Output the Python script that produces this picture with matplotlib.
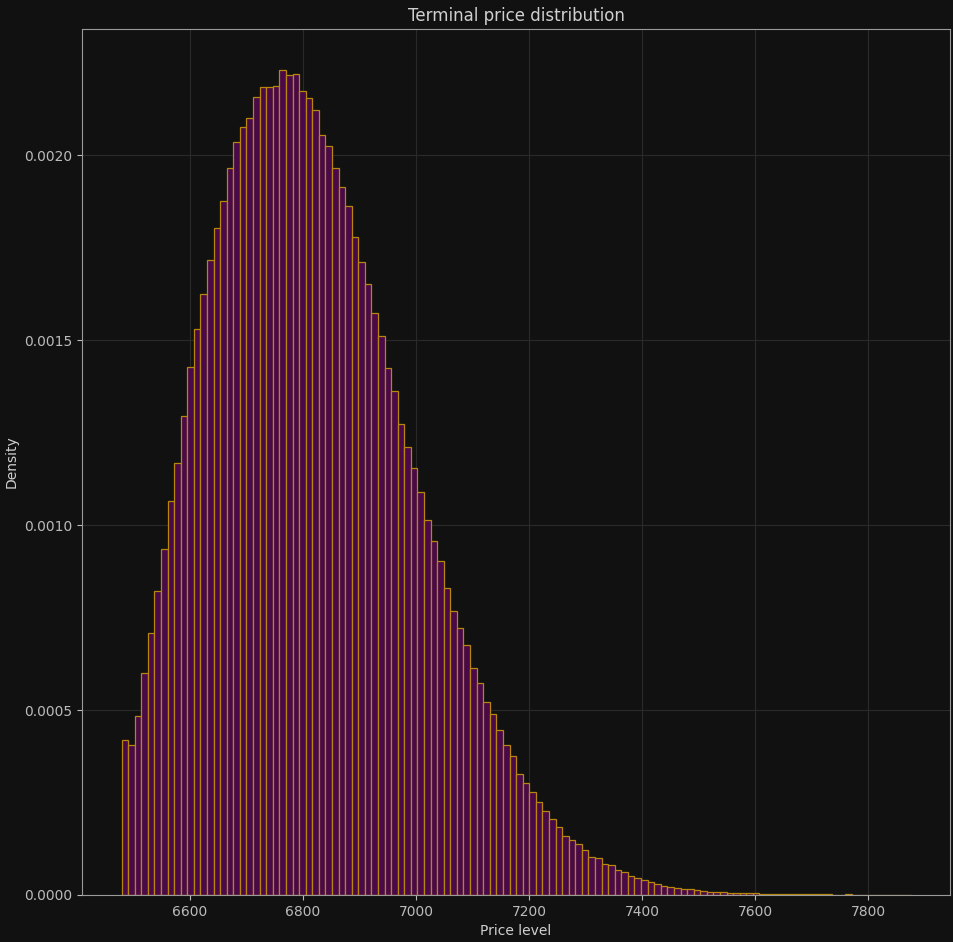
import numpy as np
import matplotlib
matplotlib.use('Agg')
import matplotlib.pyplot as plt

# histogram range and bin count
x_start = 6479.0
x_end = 7875.0
n_bins = 120

density = [
    0.000419, 0.000406, 0.000484, 0.000600, 0.000709, 0.000822, 0.000936, 0.001066,
    0.001168, 0.001295, 0.001428, 0.001530, 0.001625, 0.001717, 0.001803, 0.001876,
    0.001965, 0.002036, 0.002076, 0.002101, 0.002157, 0.002184, 0.002184, 0.002187,
    0.002230, 0.002217, 0.002220, 0.002174, 0.002155, 0.002122, 0.002055, 0.002025,
    0.001965, 0.001914, 0.001863, 0.001780, 0.001712, 0.001652, 0.001573, 0.001513,
    0.001424, 0.001362, 0.001273, 0.001211, 0.001156, 0.001091, 0.001013, 0.000956,
    0.000902, 0.000829, 0.000769, 0.000721, 0.000675, 0.000615, 0.000573, 0.000521,
    0.000488, 0.000445, 0.000405, 0.000375, 0.000326, 0.000304, 0.000277, 0.000251,
    0.000226, 0.000205, 0.000185, 0.000159, 0.000148, 0.000139, 0.000121, 0.000102,
    0.000099, 0.000083, 0.000080, 0.000067, 0.000061, 0.000051, 0.000045, 0.000040,
    0.000034, 0.000029, 0.000024, 0.000021, 0.000018, 0.000015, 0.000015, 0.000013,
    0.000010, 0.000007, 0.000007, 0.000007, 0.000005, 0.000005, 0.000005, 0.000005,
    0.000005, 0.000002, 0.000002, 0.000002, 0.000002, 0.000002, 0.000002, 0.000002,
    0.000002, 0.000002, 0.000002, 0.000002, 0.0, 0.0, 0.000002, 0.0,
    0.0, 0.0, 0.0, 0.0, 0.0, 0.0, 0.0, 0.0,
]

edges = np.linspace(x_start, x_end, n_bins + 1)

bg = '#111111'
txt = '#d0d0d0'

fig, ax = plt.subplots(figsize=(9.54, 9.42), dpi=100)
fig.patch.set_facecolor(bg)
ax.set_facecolor(bg)

ax.hist(edges[:-1], bins=edges, weights=density, color='#4a0a4a',
        edgecolor='#b8860b', linewidth=0.9)

ax.grid(True, color='#2a2a2a', linewidth=0.8)
ax.set_axisbelow(True)
for s in ax.spines.values():
    s.set_color('#9a9a9a')
ax.tick_params(colors='#bbbbbb', labelsize=10)
ax.set_title('Terminal price distribution', color=txt, fontsize=12)
ax.set_xlabel('Price level', color=txt, fontsize=10)
ax.set_ylabel('Density', color=txt, fontsize=10)
ax.set_xticks([6600, 6800, 7000, 7200, 7400, 7600, 7800])
ax.set_yticks([0, 0.0005, 0.001, 0.0015, 0.002])
ax.set_yticklabels(['0.0000', '0.0005', '0.0010', '0.0015', '0.0020'])

plt.subplots_adjust(left=0.086, right=0.996, top=0.969, bottom=0.05)
plt.savefig('out.png', facecolor=bg)
